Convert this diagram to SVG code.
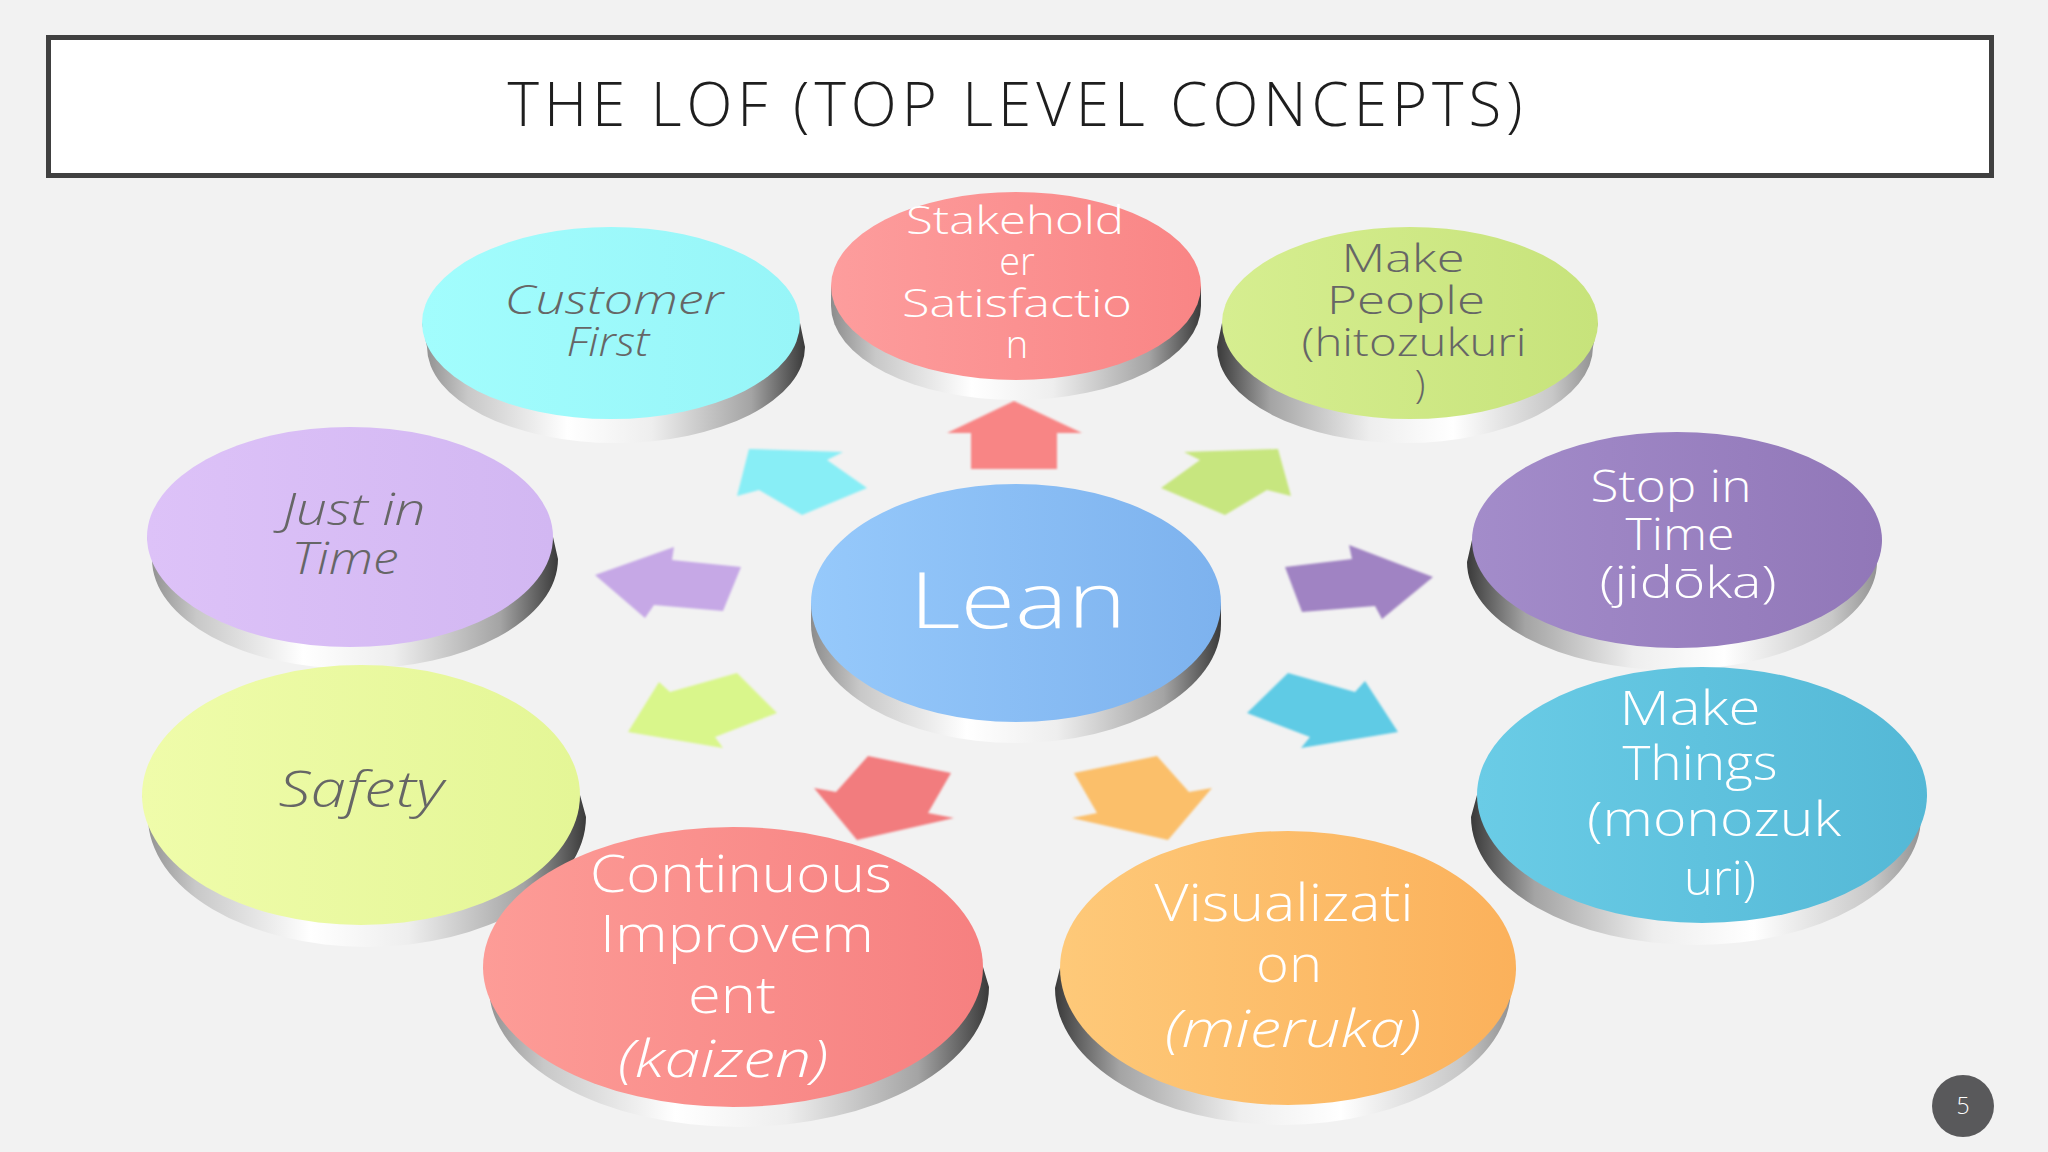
<svg xmlns="http://www.w3.org/2000/svg" width="2048" height="1152" viewBox="0 0 2048 1152">
<defs>
<style>
.t{font-family:"Open Sans","Liberation Sans",sans-serif;font-weight:300;text-anchor:middle}
.w{fill:#ffffff}
.g{fill:#666666}
.i{font-style:italic}
.title{font-family:"Open Sans","Liberation Sans",sans-serif;font-weight:300;fill:#1e1e1e;text-anchor:middle}
.arrow{filter:url(#soft)}
</style>
<filter id="soft" x="-10%" y="-10%" width="120%" height="120%"><feGaussianBlur stdDeviation="1.1"/></filter>
<linearGradient id="sideR" x1="0" y1="0" x2="1" y2="0">
<stop offset="0" stop-color="#8c8c8c"/><stop offset="0.12" stop-color="#c8c8c8"/><stop offset="0.38" stop-color="#ffffff"/><stop offset="0.6" stop-color="#eeeeee"/><stop offset="0.86" stop-color="#a4a4a4"/><stop offset="1" stop-color="#3a3a3a"/>
</linearGradient>
<linearGradient id="sideL" x1="1" y1="0" x2="0" y2="0">
<stop offset="0" stop-color="#8c8c8c"/><stop offset="0.12" stop-color="#c8c8c8"/><stop offset="0.38" stop-color="#ffffff"/><stop offset="0.6" stop-color="#eeeeee"/><stop offset="0.86" stop-color="#a4a4a4"/><stop offset="1" stop-color="#3a3a3a"/>
</linearGradient>
<linearGradient id="gLean" x1="0" x2="1"><stop offset="0" stop-color="#96c9fb"/><stop offset="1" stop-color="#7db2ee"/></linearGradient>
<linearGradient id="gCust" x1="0" x2="1"><stop offset="0" stop-color="#a2fdfd"/><stop offset="1" stop-color="#97f5f8"/></linearGradient>
<linearGradient id="gStake" x1="0" x2="1"><stop offset="0" stop-color="#fd9d9d"/><stop offset="1" stop-color="#f98585"/></linearGradient>
<linearGradient id="gPeople" x1="0" x2="1"><stop offset="0" stop-color="#d6ee90"/><stop offset="1" stop-color="#c7e37b"/></linearGradient>
<linearGradient id="gJit" x1="0" x2="1"><stop offset="0" stop-color="#ddc2f8"/><stop offset="1" stop-color="#d2b7f2"/></linearGradient>
<linearGradient id="gStop" x1="0" x2="1"><stop offset="0" stop-color="#a38cca"/><stop offset="1" stop-color="#9177b8"/></linearGradient>
<linearGradient id="gSafe" x1="0" x2="1"><stop offset="0" stop-color="#effcaa"/><stop offset="1" stop-color="#e4f696"/></linearGradient>
<linearGradient id="gThings" x1="0" x2="1"><stop offset="0" stop-color="#6acce6"/><stop offset="1" stop-color="#54b8d6"/></linearGradient>
<linearGradient id="gCont" x1="0" x2="1"><stop offset="0" stop-color="#fd9c97"/><stop offset="1" stop-color="#f68080"/></linearGradient>
<linearGradient id="gVis" x1="0" x2="1"><stop offset="0" stop-color="#fec979"/><stop offset="1" stop-color="#fbb15b"/></linearGradient>
</defs>

<rect width="2048" height="1152" fill="#f2f2f2"/>

<g id="title">
<rect x="48.5" y="37.5" width="1943" height="138" fill="#ffffff" stroke="#404040" stroke-width="5"/>
<text class="title" x="1015" y="126" font-size="60" textLength="1015" lengthAdjust="spacing">THE LOF (TOP LEVEL CONCEPTS)</text>
</g>

<g id="connectors">
<polygon class="arrow" fill="#f88585" points="1014,401 1082,433 1057,433 1057,469 971,469 971,433 947,433"/>
<polygon class="arrow" fill="#88eef6" points="749,449 843,452 827,460 867,488 802,515 759,490 737,496"/>
<polygon class="arrow" fill="#c7e67f" points="1278,449 1291,496 1267,490 1225,515 1161,488 1200,460 1184,452"/>
<polygon class="arrow" fill="#c6a8e6" points="595,575 674,547 672,560 741,567 723,611 654,605 645,618"/>
<polygon class="arrow" fill="#a083c3" points="1433,577 1382,619 1375,606 1302,612 1285,567 1352,559 1349,545"/>
<polygon class="arrow" fill="#d9f68b" points="628,732 659,682 670,692 737,673 777,713 715,737 723,748"/>
<polygon class="arrow" fill="#5fcbe5" points="1398,732 1365,681 1355,692 1288,673 1247,713 1310,737 1301,748"/>
<polygon class="arrow" fill="#f27c7e" points="857,840 814,788 836,792 868,756 951,773 928,813 954,818"/>
<polygon class="arrow" fill="#fbbf6b" points="1168,840 1212,788 1189,792 1157,756 1074,773 1097,813 1072,818"/>
</g>

<g id="node-customer-first">
<path d="M422,323 L427,347 A189,96 0 0 0 805,347 L800,323 Z" fill="url(#sideR)"/>
<ellipse cx="611" cy="323" rx="189" ry="96" fill="url(#gCust)"/>
<text class="t g i" font-size="41"><tspan x="614" y="314" textLength="219" lengthAdjust="spacingAndGlyphs">Customer</tspan><tspan x="608" y="356" textLength="83" lengthAdjust="spacingAndGlyphs">First</tspan></text>
</g>

<g id="node-stakeholder">
<path d="M831,286 L831,306 A185,94 0 0 0 1201,306 L1201,286 Z" fill="url(#sideR)"/>
<ellipse cx="1016" cy="286" rx="185" ry="94" fill="url(#gStake)"/>
<text class="t w" font-size="38"><tspan x="1015" y="234" textLength="218" lengthAdjust="spacingAndGlyphs">Stakehold</tspan><tspan x="1017" y="275">er</tspan><tspan x="1017" y="317" textLength="230" lengthAdjust="spacingAndGlyphs">Satisfactio</tspan><tspan x="1017" y="358">n</tspan></text>
</g>

<g id="node-make-people">
<path d="M1222,323 L1217,347 A188,96 0 0 0 1593,347 L1598,323 Z" fill="url(#sideL)"/>
<ellipse cx="1410" cy="323" rx="188" ry="96" fill="url(#gPeople)"/>
<text class="t g" font-size="39"><tspan x="1403" y="272" textLength="123" lengthAdjust="spacingAndGlyphs">Make</tspan><tspan x="1406" y="314" textLength="158" lengthAdjust="spacingAndGlyphs">People</tspan><tspan x="1414" y="356" textLength="225" lengthAdjust="spacingAndGlyphs">(hitozukuri</tspan><tspan x="1420" y="398">)</tspan></text>
</g>

<g id="node-just-in-time">
<path d="M147,537 L152,559 A203,110 0 0 0 558,559 L553,537 Z" fill="url(#sideR)"/>
<ellipse cx="350" cy="537" rx="203" ry="110" fill="url(#gJit)"/>
<text class="t g i" font-size="44"><tspan x="354" y="525" textLength="143" lengthAdjust="spacingAndGlyphs">Just in</tspan><tspan x="345" y="574" textLength="107" lengthAdjust="spacingAndGlyphs">Time</tspan></text>
</g>

<g id="node-stop-in-time">
<path d="M1472,540 L1467,562 A205,108 0 0 0 1877,562 L1882,540 Z" fill="url(#sideL)"/>
<ellipse cx="1677" cy="540" rx="205" ry="108" fill="url(#gStop)"/>
<text class="t w" font-size="44"><tspan x="1671" y="502" textLength="161" lengthAdjust="spacingAndGlyphs">Stop in</tspan><tspan x="1680" y="550" textLength="109" lengthAdjust="spacingAndGlyphs">Time</tspan><tspan x="1688" y="598" textLength="177" lengthAdjust="spacingAndGlyphs">(jidōka)</tspan></text>
</g>

<g id="node-safety">
<path d="M142,795 L148,817 A219,130 0 0 0 586,817 L580,795 Z" fill="url(#sideR)"/>
<ellipse cx="361" cy="795" rx="219" ry="130" fill="url(#gSafe)"/>
<text class="t g i" font-size="50" x="361" y="807" textLength="165" lengthAdjust="spacingAndGlyphs">Safety</text>
</g>

<g id="node-make-things">
<path d="M1477,795 L1471,817 A225,128 0 0 0 1921,817 L1927,795 Z" fill="url(#sideL)"/>
<ellipse cx="1702" cy="795" rx="225" ry="128" fill="url(#gThings)"/>
<text class="t w" font-size="48"><tspan x="1690" y="725" textLength="141" lengthAdjust="spacingAndGlyphs">Make</tspan><tspan x="1700" y="780" textLength="155" lengthAdjust="spacingAndGlyphs">Things</tspan><tspan x="1714" y="836" textLength="254" lengthAdjust="spacingAndGlyphs">(monozuk</tspan><tspan x="1720" y="895" textLength="72" lengthAdjust="spacingAndGlyphs">uri)</tspan></text>
</g>

<g id="node-continuous-improvement">
<path d="M483,967 L489,987 A250,140 0 0 0 989,987 L983,967 Z" fill="url(#sideR)"/>
<ellipse cx="733" cy="967" rx="250" ry="140" fill="url(#gCont)"/>
<text class="t w" font-size="52"><tspan x="741" y="892" textLength="302" lengthAdjust="spacingAndGlyphs">Continuous</tspan><tspan x="737" y="952" textLength="274" lengthAdjust="spacingAndGlyphs">Improvem</tspan><tspan x="732" y="1013" textLength="88" lengthAdjust="spacingAndGlyphs">ent</tspan><tspan class="i" x="723" y="1077" textLength="210" lengthAdjust="spacingAndGlyphs">(kaizen)</tspan></text>
</g>

<g id="node-visualization">
<path d="M1060,968 L1055,988 A228,137 0 0 0 1511,988 L1516,968 Z" fill="url(#sideL)"/>
<ellipse cx="1288" cy="968" rx="228" ry="137" fill="url(#gVis)"/>
<text class="t w" font-size="52"><tspan x="1284" y="921" textLength="259" lengthAdjust="spacingAndGlyphs">Visualizati</tspan><tspan x="1289" y="982" textLength="66" lengthAdjust="spacingAndGlyphs">on</tspan><tspan class="i" x="1293" y="1047" textLength="256" lengthAdjust="spacingAndGlyphs">(mieruka)</tspan></text>
</g>

<g id="node-lean">
<path d="M811,603 L811,624 A205,119 0 0 0 1221,624 L1221,603 Z" fill="url(#sideR)"/>
<ellipse cx="1016" cy="603" rx="205" ry="119" fill="url(#gLean)"/>
<text class="t w" font-size="78" x="1018" y="628" textLength="217" lengthAdjust="spacingAndGlyphs">Lean</text>
</g>

<g id="page-number">
<circle cx="1963" cy="1106" r="31" fill="#59595b"/>
<text class="t w" font-size="23" x="1963" y="1114">5</text>
</g>
</svg>
